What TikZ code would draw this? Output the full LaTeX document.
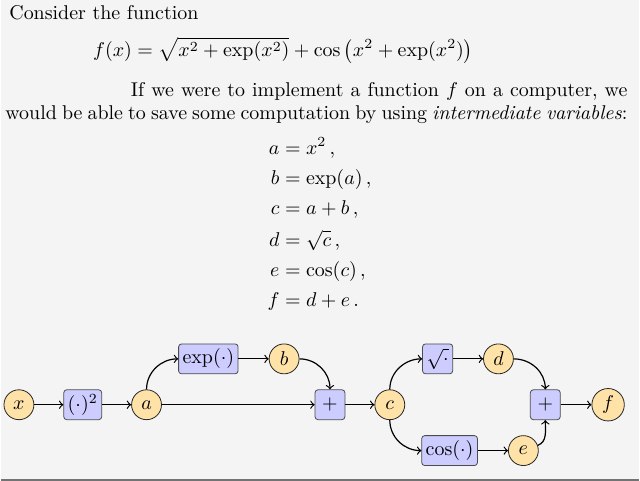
\documentclass[tikz,border=0pt]{standalone}
\usepackage{amsmath}
\definecolor{bgcol}{RGB}{244,244,244}
\definecolor{opblue}{RGB}{204,204,255}
\definecolor{varorange}{RGB}{254,226,168}
\begin{document}
\begin{tikzpicture}[x=1pt,y=1pt,
		txt/.style={inner sep=0pt,anchor=base west},
		var/.style={circle,draw=black!85,fill=varorange,minimum size=15pt,inner sep=2pt},
		op/.style={rectangle,rounded corners=1.5pt,draw=black!70,fill=opblue,minimum height=15pt,minimum width=15pt,inner sep=2pt},
		link/.style={->,semithick}]
		\fill[bgcol](0,0)rectangle(320,241);
		\draw[black!55,line width=1pt](0,.5)--(320,.5);
		\node[txt](intro)at(4,231){Consider the function};
		\node[txt](fx)at(46,212.5){$\displaystyle f(x)=\sqrt{x^2+\exp(x^2)}+\cos\left(x^2+\exp(x^2)\right)$};
		\node[txt](l1)at(65,192.5){\makebox[249pt][s]{If we were to implement a function $f$ on a computer, we}};
		\node[txt](l2)at(2,181){\makebox[312pt][s]{would be able to save some computation by using \emph{intermediate variables}:}};
		\node[inner sep=0pt,anchor=west](defs)at(133.5,127.75){$\begin{aligned}
			a&=x^2\,,\\
			b&=\exp(a)\,,\\
			c&=a+b\,,\\
			d&=\sqrt{c}\,,\\
			e&=\cos(c)\,,\\
			f&=d+e\,.
		\end{aligned}$};
		\node[var](x)at(9,38){$x$};
		\node[op](sq)at(41,38){$(\cdot)^2$};
		\node[var](a)at(73,38){$a$};
		\node[op](ex)at(104,61){$\exp(\cdot)$};
		\node[var](b)at(142,61){$b$};
		\node[op](p1)at(165,38){$+$};
		\node[var](c)at(195,38){$c$};
		\node[op](sr)at(219,61){$\sqrt{\cdot}$};
		\node[var](d)at(249.5,61){$d$};
		\node[op](p2)at(273,38){$+$};
		\node[var](f)at(304.5,38){$f$};
		\node[op](cs)at(225,15){$\cos(\cdot)$};
		\node[var](e)at(262,15){$e$};
		\draw[link](x)--(sq);
		\draw[link](sq)--(a);
		\draw[link](a.north)to[out=90,in=180](ex.west);
		\draw[link](ex)--(b);
		\draw[link](b.east)to[out=0,in=90](p1.north);
		\draw[link](a)--(p1);
		\draw[link](p1)--(c);
		\draw[link](c.north)to[out=90,in=180](sr.west);
		\draw[link](c.south)to[out=-90,in=180](cs.west);
		\draw[link](sr)--(d);
		\draw[link](cs)--(e);
		\draw[link](d.east)to[out=0,in=90](p2.north);
		\draw[link](e.20)to[out=20,in=-90](p2.south);
		\draw[link](p2)--(f);
	\end{tikzpicture}
\end{document}
